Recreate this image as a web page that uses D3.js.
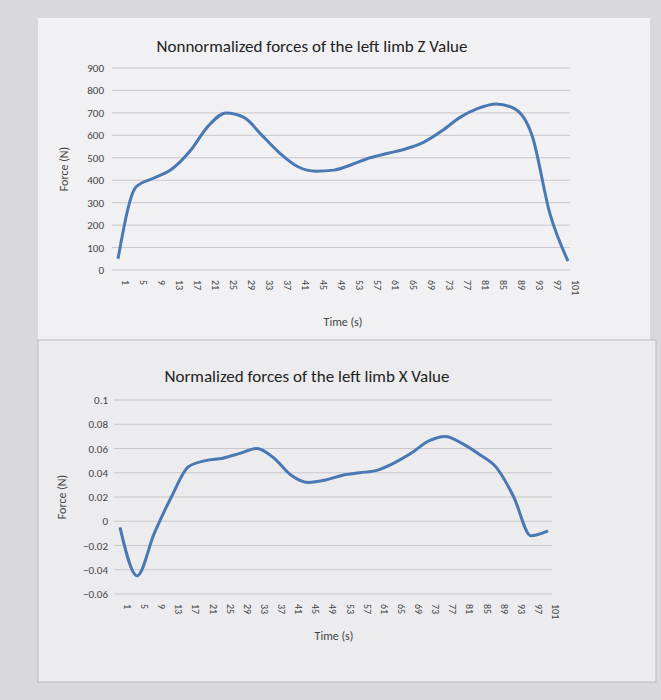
<!DOCTYPE html>
<html><head><meta charset="utf-8">
<script src="https://cdn.jsdelivr.net/npm/d3@7"></script>
<style>body{margin:0;background:#d9d9db;font-family:Calibri,Carlito,"Liberation Sans",sans-serif}</style>
</head><body><svg id="c" width="661" height="700"></svg>
<script>
const xTicks = d3.range(1,102,4);
const zValues = [50,370,410,450,530,640,700,680,600,520,460,440,445,470,500,520,540,570,620,680,720,740,720,600,250,40];
const xValues = [-0.005,-0.045,-0.01,0.02,0.045,0.05,0.052,0.056,0.06,0.052,0.038,0.032,0.034,0.038,0.04,0.042,0.048,0.056,0.066,0.07,0.064,0.055,0.044,0.02,-0.012,-0.008];
const zTicks = d3.range(0,901,100);
const xForceTicks = [-0.06,-0.04,-0.02,0,0.02,0.04,0.06,0.08,0.1];

const svg = d3.select("#c");
svg.append("rect").attr("x",38).attr("y",18).attr("width",612).attr("height",322).attr("fill","#f1f1f3");
svg.append("rect").attr("x",38).attr("y",340).attr("width",618).attr("height",342).attr("fill","#ececee").attr("stroke","#bbb");

function chart(o){
  const x = d3.scaleLinear().domain([1,101]).range([o.x0,o.x1]);
  const y = d3.scaleLinear().domain(o.dom).range([o.yb,o.yt]);
  const g = svg.append("g");
  g.selectAll(".gl").data(o.ticks).join("line").attr("x1",o.x0-6).attr("x2",o.gx1)
    .attr("y1",d=>y(d)).attr("y2",d=>y(d)).attr("stroke","#c8c8cc").attr("stroke-width",1);
  g.selectAll(".yl").data(o.ticks).join("text").attr("x",o.lx).attr("y",d=>y(d)+4)
    .attr("text-anchor","end").attr("font-size",11).attr("fill","#444").text(o.fmt);
  g.selectAll(".xl").data(xTicks).join("text")
    .attr("transform",d=>`translate(${x(d)+4},${y(o.dom[0])+10}) rotate(90)`)
    .attr("font-size",10).attr("fill","#444").text(d=>d);
  g.append("path").datum(o.vals).attr("fill","none").attr("stroke","#4a78b3").attr("stroke-width",3)
    .attr("d",d3.line().x((d,i)=>x(xTicks[i])).y(d=>y(d)).curve(d3.curveMonotoneX));
  g.append("text").attr("x",o.tx).attr("y",o.ty).attr("font-size",17).attr("text-anchor","middle").attr("fill","#222").text(o.title);
  g.append("text").attr("x",(o.x0+o.x1)/2).attr("y",o.xty).attr("font-size",12).attr("text-anchor","middle").attr("fill","#444").text("Time (s)");
  g.append("text").attr("transform",`translate(${o.ytx},${(o.yb+o.yt)/2}) rotate(-90)`).attr("font-size",12).attr("text-anchor","middle").attr("fill","#444").text("Force (N)");
}
chart({x0:118,x1:568,gx1:570,yb:270,yt:68,dom:[0,900],ticks:zTicks,vals:zValues,lx:104,fmt:d=>d,
  title:"Nonnormalized forces of the left limb Z Value",tx:312,ty:52,xty:326,ytx:68});
chart({x0:120,x1:548,gx1:552,yb:594,yt:400,dom:[-0.06,0.1],ticks:xForceTicks,vals:xValues,lx:108,fmt:d=>d===0?"0":d3.format("")(+d.toFixed(2)),
  title:"Normalized forces of the left limb X Value",tx:307,ty:382,xty:640,ytx:66});
</script></body></html>
